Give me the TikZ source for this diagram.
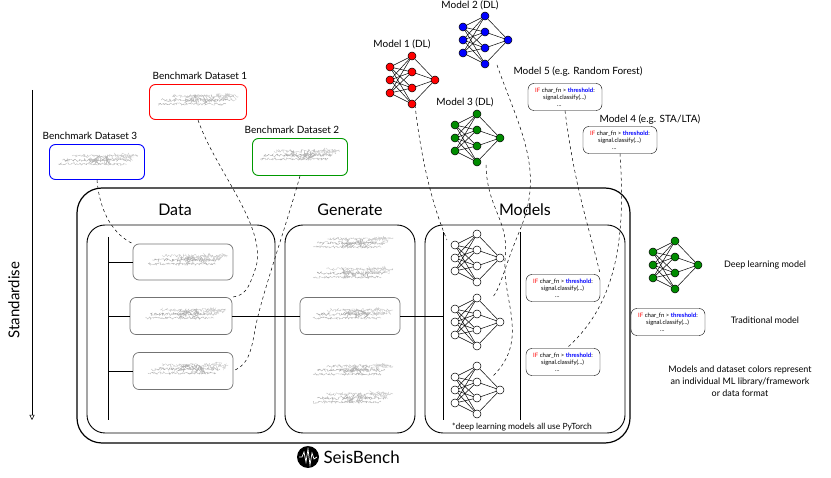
\documentclass[tikz,border=0pt]{standalone}
\usepackage{fontspec}
\setmainfont{Lato}
\usetikzlibrary{arrows.meta,decorations.pathmorphing}
\tikzset{
 big/.style={draw,line width=1.2pt,rounded corners=25pt},
 sub/.style={draw,line width=0.9pt,rounded corners=18pt},
 wbox/.style={draw=black!55,line width=0.7pt,rounded corners=6pt},
 dsbox/.style={draw,line width=0.9pt,rounded corners=6pt},
 nd/.style={circle,draw,line width=0.5pt,inner sep=0pt,minimum size=8pt},
 trad/.style={draw,rounded corners=6pt,align=left,font=\fontsize{6}{7}\selectfont,inner sep=2pt,minimum width=74pt,minimum height=27pt},
 conn/.style={dashed,line width=0.5pt},
 lbl/.style={font=\fontsize{10}{12}\selectfont},
 ttl/.style={font=\fontsize{16}{18}\selectfont},
 leg/.style={font=\fontsize{9}{12}\selectfont,align=center}
}
\newcommand\nnet[4]{%
\begin{scope}[shift={(#2,#3)}]
 \foreach \a in {-13,0,13}{\foreach \b in {-24,-8,8,24}{\draw[line width=0.5pt] (-15,\a)--(7,\b);}}
 \foreach \b in {-24,-8,8,24}{\draw[line width=0.5pt] (7,\b)--(30,0);}
 \foreach \a in {-13,0,13}{\node[nd,fill=#4] at (-15,\a){};}
 \foreach \b in {-24,-8,8,24}{\node[nd,fill=#4] at (7,\b){};}
 \node[nd,fill=#4] at (30,0){};
 \coordinate (#1) at (0,0);
\end{scope}}
\newcommand\wave[2]{%
\begin{scope}[shift={(#1,#2)}]
 \draw[black!25,line width=0.3pt,decorate,decoration={random steps,segment length=0.8pt,amplitude=1.5pt}] (-28,-4)--(38,-4);
 \draw[black!35,line width=0.3pt,decorate,decoration={random steps,segment length=0.8pt,amplitude=1.5pt}] (-38,0)--(30,0);
 \draw[black!30,line width=0.3pt,decorate,decoration={random steps,segment length=0.8pt,amplitude=1.2pt}] (-42,4)--(26,4);
 \draw[black!30,line width=0.3pt,decorate,decoration={random steps,segment length=0.7pt,amplitude=5pt}] (-12,0)--(14,0);
 \draw[black!20,line width=0.3pt,decorate,decoration={random steps,segment length=0.7pt,amplitude=4pt}] (16,-3)--(34,-3);
\end{scope}}
\newcommand\tradtext{\textcolor{red}{IF} char\_fn > \textcolor{blue}{\textbf{threshold}}:\\ \hspace*{8pt}signal.classify(...)\\ \hspace*{22pt}...}
\begin{document}
\begin{tikzpicture}[x=1pt,y=-1pt]
\pgfmathsetseed{7}
\useasboundingbox (0,0) rectangle (831,478);
\node[rotate=90,font=\fontsize{15}{17}\selectfont] (std) at (14,300) {Standardise};
\coordinate (sa) at (32,90); \coordinate (sb) at (32,420);
\draw[line width=0.5pt,-{Triangle[open,length=5pt,width=5pt]}] (sa)--(sb);
\draw[big] (77,188) rectangle (630,443);
\draw[sub] (87,225) rectangle (275,433);
\draw[sub] (285,225) rectangle (415,433);
\draw[sub] (425,225) rectangle (625,433);
\node[ttl] (tData) at (175,210) {Data};
\node[ttl] (tGen) at (350,210) {Generate};
\node[ttl] (tMod) at (525,210) {Models};
\coordinate (dv1) at (108,237); \coordinate (dv2) at (108,420);
\draw[line width=0.7pt] (dv1)--(dv2);
\node[wbox,minimum width=100pt,minimum height=36pt] (d1) at (183,262) {};
\node[wbox,minimum width=102pt,minimum height=37pt] (d2) at (181,316) {};
\node[wbox,minimum width=100pt,minimum height=37pt] (d3) at (183,371) {};
\draw[line width=0.7pt] (108,262)--(d1.west);
\draw[line width=0.7pt] (108,316)--(d2.west);
\draw[line width=0.7pt] (108,371)--(d3.west);
\wave{190}{260}\wave{188}{314}\wave{190}{369}
\node[wbox,minimum width=100pt,minimum height=37pt] (g) at (350,316) {};
\wave{355}{243}\wave{355}{273}\wave{355}{314}\wave{355}{370}\wave{355}{398}
\draw[line width=0.7pt] (d2.east)--(g.west);
\coordinate (mv1) at (443,232); \coordinate (mv2) at (443,420);
\coordinate (mv3) at (520,232); \coordinate (mv4) at (520,420);
\draw[line width=0.7pt] (mv1)--(mv2); \draw[line width=0.7pt] (mv3)--(mv4);
\draw[line width=0.7pt] (g.east)--(443,316);
\nnet{n1}{470}{258}{white}
\nnet{n2}{470}{322}{white}
\nnet{n3}{470}{390}{white}
\node[trad] (t1) at (563,288) {\tradtext};
\node[trad] (t2) at (563,362) {\tradtext};
\node[font=\fontsize{8.5}{10}\selectfont] (pt) at (522,427) {*deep learning models all use PyTorch};
\node[circle,fill=black,minimum size=22pt,inner sep=0pt] (logo) at (308,457) {};
\draw[white,line width=0.7pt] (299,457)--(302,457)--(304,452)--(306,462)--(308,449)--(310,465)--(312,453)--(314,459)--(317,457);
\node[font=\fontsize{17}{19}\selectfont,anchor=west] (sbt) at (320,457) {SeisBench};
\node[lbl] (m1l) at (402,44) {Model 1 (DL)};
\nnet{m1}{405}{80}{red}
\node[lbl] (m2l) at (470,5) {Model 2 (DL)};
\nnet{m2}{478}{40}{blue}
\node[lbl] (m3l) at (465,102) {Model 3 (DL)};
\nnet{m3}{470}{138}{green!55!black}
\node[lbl] (m5l) at (578,72) {Model 5 (e.g. Random Forest)};
\node[trad] (t5) at (565,97) {\tradtext};
\node[lbl] (m4l) at (650,120) {Model 4 (e.g. STA/LTA)};
\node[trad] (t4) at (620,140) {\tradtext};
\node[lbl] (b1l) at (200,76) {Benchmark Dataset 1};
\node[dsbox,draw=red,minimum width=97pt,minimum height=35pt] (b1) at (198,102) {};
\wave{200}{100}
\node[lbl] (b3l) at (90,136) {Benchmark Dataset 3};
\node[dsbox,draw=blue,minimum width=95pt,minimum height=35pt] (b3) at (97,162) {};
\wave{100}{160}
\node[lbl] (b2l) at (292,130) {Benchmark Dataset 2};
\node[dsbox,draw=green!60!black,minimum width=95pt,minimum height=37pt] (b2) at (300,157) {};
\wave{302}{155}
\nnet{lg}{668}{265}{green!55!black}
\node[leg] (lgt) at (765,265) {Deep learning model};
\node[trad] (lt) at (668,322) {\tradtext};
\node[leg] (ltt) at (765,320) {Traditional model};
\node[leg] (lnote) at (740,381) {Models and dataset colors represent\\an individual ML library/framework\\or data format};
\draw[conn] (b3.south) .. controls (100,215) and (115,235) .. (d1.north west);
\draw[conn] (b1.south) .. controls (215,170) and (270,230) .. (255,270) .. controls (248,290) and (245,295) .. (d2.north east);
\draw[conn] (b2.south) .. controls (285,230) and (260,300) .. (255,330) .. controls (250,360) and (245,365) .. (d3.east);
\draw[conn] (415,105) .. controls (420,150) and (430,200) .. (447,240);
\draw[conn] (497,65) .. controls (520,130) and (545,170) .. (520,230) .. controls (505,265) and (500,290) .. (492,298);
\draw[conn] (486,165) .. controls (487,210) and (510,220) .. (505,260) .. controls (502,300) and (530,340) .. (493,376);
\draw[conn] (t5.south) .. controls (575,190) and (590,230) .. (t1.north east);
\draw[conn] (t4.south) .. controls (625,230) and (620,300) .. (568,347);
\end{tikzpicture}
\end{document}
